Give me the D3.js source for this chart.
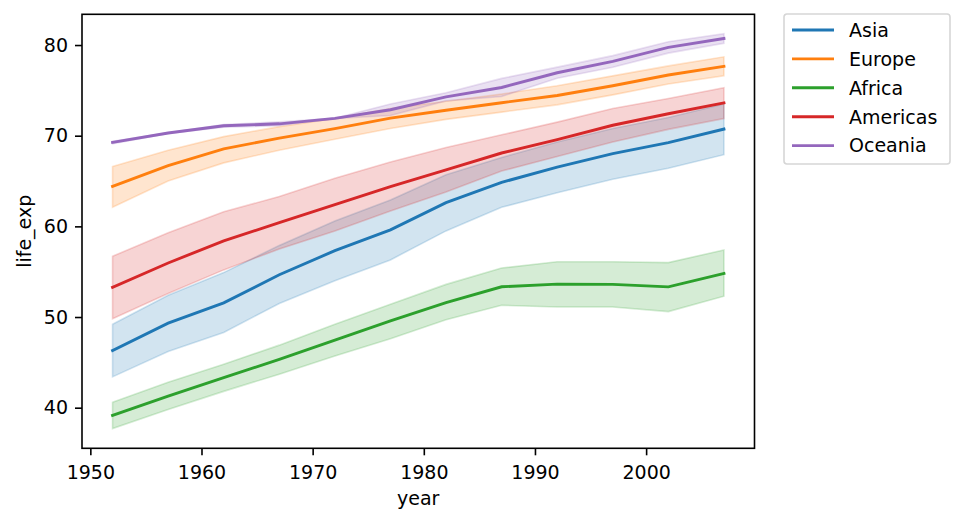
<!DOCTYPE html>
<html>
<head>
<meta charset="utf-8">
<script src="https://cdn.jsdelivr.net/npm/d3@7"></script>
<style>
  body { margin: 0; background: #fff; }
  text { font-family: "DejaVu Sans", sans-serif; fill: #000; }
</style>
</head>
<body>
<div id="chart"></div>
<script>
// Mean life expectancy per continent, with the 95% interval band
const years = [1952, 1957, 1962, 1967, 1972, 1977, 1982, 1987, 1992, 1997, 2002, 2007];
const continents = ["Asia", "Europe", "Africa", "Americas", "Oceania"];
const colors = ["#1f77b4", "#ff7f0e", "#2ca02c", "#d62728", "#9467bd"];

const asiaMean = [46.31, 49.32, 51.56, 54.66, 57.32, 59.61, 62.62, 64.85, 66.54, 68.02, 69.23, 70.73];
const asiaLow = [43.4, 46.2, 48.3, 51.5, 54.0, 56.3, 59.5, 62.1, 63.7, 65.2, 66.4, 67.9];
const asiaHigh = [49.2, 52.4, 54.9, 57.9, 60.6, 62.9, 65.7, 67.6, 69.3, 70.8, 72.0, 73.5];

const europeMean = [64.41, 66.70, 68.54, 69.74, 70.78, 71.94, 72.81, 73.64, 74.44, 75.51, 76.70, 77.65];
const europeLow = [62.1, 65.0, 67.0, 68.4, 69.6, 70.8, 71.8, 72.6, 73.4, 74.5, 75.7, 76.6];
const europeHigh = [66.6, 68.4, 69.9, 71.0, 71.9, 73.0, 73.8, 74.6, 75.5, 76.6, 77.7, 78.7];

const africaMean = [39.14, 41.27, 43.32, 45.33, 47.45, 49.58, 51.59, 53.34, 53.63, 53.60, 53.33, 54.81];
const africaLow = [37.7, 39.8, 41.8, 43.7, 45.7, 47.6, 49.7, 51.3, 51.1, 51.1, 50.6, 52.3];
const africaHigh = [40.6, 42.8, 44.8, 46.9, 49.2, 51.4, 53.6, 55.4, 56.1, 56.1, 56.0, 57.4];

const americasMean = [53.28, 55.96, 58.40, 60.41, 62.39, 64.39, 66.23, 68.09, 69.57, 71.15, 72.42, 73.61];
const americasLow = [49.8, 52.6, 55.2, 57.5, 59.5, 61.7, 63.8, 66.1, 67.7, 69.3, 70.7, 71.9];
const americasHigh = [56.7, 59.3, 61.6, 63.3, 65.3, 67.1, 68.7, 70.1, 71.5, 73.0, 74.1, 75.3];

const oceaniaMean = [69.26, 70.30, 71.09, 71.31, 71.91, 72.86, 74.29, 75.32, 76.94, 78.19, 79.74, 80.72];
const oceaniaLow = [69.12, 70.26, 70.93, 71.10, 71.89, 72.22, 73.84, 74.32, 76.33, 77.55, 79.11, 80.20];
const oceaniaHigh = [69.39, 70.33, 71.24, 71.52, 71.93, 73.49, 74.74, 76.32, 77.56, 78.83, 80.37, 81.24];

const xTicks = [1950, 1960, 1970, 1980, 1990, 2000];
const yTicks = [40, 50, 60, 70, 80];

class LinePlot {
  constructor(_config, _series) {
    this.config = {
      parentElement: _config.parentElement,
      containerWidth: 964,
      containerHeight: 523,
      margin: { top: 14.3, right: 209.5, bottom: 74.7, left: 82 },
      fontSize: 19,
    };
    this.series = _series;
    this.initVis();
  }

  initVis() {
    let vis = this;
    vis.svg = d3
      .select(vis.config.parentElement)
      .append("svg")
      .attr("width", vis.config.containerWidth)
      .attr("height", vis.config.containerHeight);

    vis.width = vis.config.containerWidth - vis.config.margin.left - vis.config.margin.right;
    vis.height = vis.config.containerHeight - vis.config.margin.top - vis.config.margin.bottom;

    vis.chartArea = vis.svg
      .append("g")
      .attr("transform", `translate(${vis.config.margin.left},${vis.config.margin.top})`);

    // matplotlib style 5% padding around the data
    vis.xScale = d3.scaleLinear().domain([1949.25, 2009.75]).range([0, vis.width]);
    vis.yScale = d3.scaleLinear().domain([35.52, 83.39]).range([vis.height, 0]);

    vis.renderVis();
  }

  renderVis() {
    let vis = this;
    const fs = vis.config.fontSize;

    const area = d3
      .area()
      .x((d) => vis.xScale(d.year))
      .y0((d) => vis.yScale(d.low))
      .y1((d) => vis.yScale(d.high));
    const line = d3
      .line()
      .x((d) => vis.xScale(d.year))
      .y((d) => vis.yScale(d.mean));

    // bands sit under all the lines
    vis.chartArea
      .selectAll(".band")
      .data(vis.series)
      .join("path")
      .attr("class", "band")
      .attr("d", (s) => area(s.points))
      .attr("fill", (s) => s.color)
      .attr("fill-opacity", 0.2)
      .attr("stroke", (s) => s.color)
      .attr("stroke-opacity", 0.2)
      .attr("stroke-width", 1.6);

    vis.chartArea
      .selectAll(".series-line")
      .data(vis.series)
      .join("path")
      .attr("class", "series-line")
      .attr("d", (s) => line(s.points))
      .attr("fill", "none")
      .attr("stroke", (s) => s.color)
      .attr("stroke-width", 2.9)
      .attr("stroke-linecap", "square");

    // Axes
    const xAxis = d3.axisBottom(vis.xScale).tickValues(xTicks).tickFormat(d3.format("d")).tickSize(7).tickPadding(7);
    const yAxis = d3.axisLeft(vis.yScale).tickValues(yTicks).tickSize(7).tickPadding(7);

    const xg = vis.chartArea.append("g").attr("transform", `translate(0,${vis.height})`).call(xAxis);
    const yg = vis.chartArea.append("g").call(yAxis);
    [xg, yg].forEach((g) => {
      g.select(".domain").remove();
      g.selectAll(".tick line").attr("stroke", "#000").attr("stroke-width", 1.6);
      g.selectAll(".tick text").style("font-size", fs + "px").attr("fill", "#000");
    });
    xg.selectAll(".tick text").attr("y", 30.5).attr("dy", null);

    // frame around the plot
    vis.chartArea
      .append("rect")
      .attr("width", vis.width)
      .attr("height", vis.height)
      .attr("fill", "none")
      .attr("stroke", "#000")
      .attr("stroke-width", 1.6);

    vis.svg
      .append("text")
      .attr("x", vis.config.margin.left + vis.width / 2)
      .attr("y", 505)
      .style("font-size", fs + "px")
      .style("text-anchor", "middle")
      .text("year");

    vis.svg
      .append("text")
      .attr("transform", `translate(30.5,${vis.config.margin.top + vis.height / 2}) rotate(-90)`)
      .style("font-size", fs + "px")
      .style("text-anchor", "middle")
      .text("life_exp");

    // Legend outside on the right
    const legend = vis.svg.append("g").attr("transform", "translate(784,14)");
    legend
      .append("rect")
      .attr("width", 166)
      .attr("height", 150)
      .attr("rx", 3)
      .attr("fill", "#fff")
      .attr("stroke", "#d6d6d6")
      .attr("stroke-width", 1.6);

    const rows = legend
      .selectAll(".legend-row")
      .data(vis.series)
      .join("g")
      .attr("class", "legend-row")
      .attr("transform", (s, i) => `translate(0,${16 + i * 28.9})`);
    rows
      .append("line")
      .attr("x1", 8)
      .attr("x2", 50)
      .attr("stroke", (s) => s.color)
      .attr("stroke-width", 2.9);
    rows
      .append("text")
      .attr("x", 65)
      .attr("dy", "0.36em")
      .style("font-size", fs + "px")
      .text((s) => s.name);
  }
}

const means = [asiaMean, europeMean, africaMean, americasMean, oceaniaMean];
const lows = [asiaLow, europeLow, africaLow, americasLow, oceaniaLow];
const highs = [asiaHigh, europeHigh, africaHigh, americasHigh, oceaniaHigh];

const series = continents.map((name, i) => ({
  name: name,
  color: colors[i],
  points: years.map((year, j) => ({ year: year, mean: means[i][j], low: lows[i][j], high: highs[i][j] })),
}));

new LinePlot({ parentElement: "#chart" }, series);
</script>
</body>
</html>
